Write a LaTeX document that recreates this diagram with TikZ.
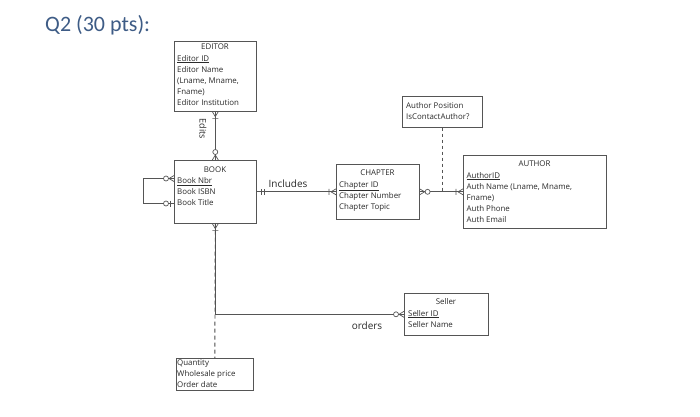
\documentclass[tikz,border=0pt]{standalone}
\usepackage{fontspec}
\setmainfont{Open Sans}
\newfontfamily\titlefont{Carlito}
\usetikzlibrary{calc}
\definecolor{titleblue}{HTML}{3E5C86}
\definecolor{linegray}{HTML}{555555}
\definecolor{txtgray}{HTML}{2A2A2A}
\begin{document}
\begin{tikzpicture}[x=1pt,y=-1pt,
  box/.style={draw=linegray, line width=0.6pt, rectangle, inner sep=0pt, anchor=north west},
  etitle/.style={inner sep=0pt, font=\fontsize{7.9}{9}\selectfont, text=txtgray, text height=5.5pt, text depth=1.5pt},
  attr/.style={etitle, anchor=west},
  rel/.style={inner sep=0pt, font=\fontsize{10}{12}\selectfont, text=txtgray},
  conn/.style={draw=linegray, line width=0.7pt},
  onemany/.pic={\draw[conn] (-5,0) -- (0,-3) (-5,0) -- (0,3) (-7,-3) -- (-7,3);},
  zeromany/.pic={\draw[conn] (-5,0) -- (0,-3) (-5,0) -- (0,3); \draw[conn, fill=white] (-8,0) circle[radius=2.5pt];},
  oneone/.pic={\draw[conn] (-5,-3) -- (-5,3) (-7.5,-3) -- (-7.5,3);},
  zeroone/.pic={\draw[conn] (-3.5,-3) -- (-3.5,3); \draw[conn, fill=white] (-8,0) circle[radius=2.5pt];}
]
\useasboundingbox (0,0) rectangle (700,416);
\fill[white] (0,0) rectangle (700,416);

% title
\node[anchor=base west, inner sep=0pt, font=\titlefont\fontsize{22}{26}\selectfont, text=titleblue] (title) at (45,31.5) {Q2 (30 pts):};

% boxes
\node[box, minimum width=82pt, minimum height=70pt] (editor) at (174,41) {};
\node[box, minimum width=82pt, minimum height=63pt] (book) at (174,160) {};
\node[box, minimum width=83pt, minimum height=55pt] (chapter) at (336,164) {};
\node[box, minimum width=143pt, minimum height=73pt] (author) at (463,155) {};
\node[box, minimum width=80pt, minimum height=31pt] (ap) at (402,96) {};
\node[box, minimum width=84pt, minimum height=42pt] (seller) at (404,293) {};
\node[box, minimum width=77pt, minimum height=32pt] (attr) at (176,358) {};

% EDITOR text
\node[etitle] (editor-t) at (215,47.5) {EDITOR};
\node[attr] (editor-a1) at (177,59) {\underline{Editor ID}};
\node[attr] (editor-a2) at (177,70) {Editor Name};
\node[attr] (editor-a3) at (177,81.5) {(Lname, Mname,};
\node[attr] (editor-a4) at (177,92) {Fname)};
\node[attr] (editor-a5) at (177,103) {Editor Institution};

% BOOK text
\node[etitle] (book-t) at (215,170) {BOOK};
\node[attr] (book-a1) at (177,181.5) {\underline{Book Nbr}};
\node[attr] (book-a2) at (177,192.5) {Book ISBN};
\node[attr] (book-a3) at (177,203.5) {Book Title};

% CHAPTER text
\node[etitle] (chapter-t) at (377.5,173) {CHAPTER};
\node[attr] (chapter-a1) at (339,185) {\underline{Chapter ID}};
\node[attr] (chapter-a2) at (339,196) {Chapter Number};
\node[attr] (chapter-a3) at (339,207) {Chapter Topic};

% AUTHOR text
\node[etitle] (author-t) at (534.5,164) {AUTHOR};
\node[attr] (author-a1) at (466.5,176) {\underline{AuthorID}};
\node[attr] (author-a2) at (466.5,187) {Auth Name (Lname, Mname,};
\node[attr] (author-a3) at (466.5,198) {Fname)};
\node[attr] (author-a4) at (466.5,209) {Auth Phone};
\node[attr] (author-a5) at (466.5,220) {Auth Email};

% Author Position text
\node[attr] (ap-a1) at (406,106) {Author Position};
\node[attr] (ap-a2) at (406,117) {IsContactAuthor?};

% Seller text
\node[etitle] (seller-t) at (446,302.5) {Seller};
\node[attr] (seller-a1) at (408,314) {\underline{Seller ID}};
\node[attr] (seller-a2) at (408,325) {Seller Name};

% order attributes
\node[attr] (attr-a1) at (177,363.5) {Quantity};
\node[attr] (attr-a2) at (177,374.5) {Wholesale price};
\node[attr] (attr-a3) at (177,385.3) {Order date};

% Edits
\draw[conn] (editor.south) -- (book.north);
\pic[rotate=90] at (editor.south) {onemany};
\pic[rotate=-90] at (book.north) {zeromany};
\node[rel, font=\fontsize{9}{11}\selectfont, rotate=-90] (edits) at (203,129) {Edits};

% self loop on BOOK
\coordinate (loopt) at ($(book.north west)+(0,18.5)$);
\coordinate (loopb) at ($(book.north west)+(0,43.5)$);
\draw[conn] (loopt) -- ++(-31,0) |- (loopb);
\pic at (loopt) {zeromany};
\pic at (loopb) {zeroone};

% Includes
\draw[conn] (book.east) -- (chapter.west);
\pic[rotate=180] at (book.east) {oneone};
\pic at (chapter.west) {onemany};
\node[rel] (includes) at (288,184) {Includes};

% Chapter - Author
\draw[conn] (chapter.east) -- (author.west);
\pic[rotate=180] at (chapter.east) {zeromany};
\pic at (author.west) {onemany};
\draw[conn, dashed] (ap.south) -- (ap.south |- author.west);

% orders
\draw[conn] (book.south) |- (seller.west);
\pic[rotate=90] at (book.south) {onemany};
\pic at (seller.west) {zeromany};
\node[rel] (orders) at (367,326) {orders};
\draw[conn, draw=black!70, line width=0.9pt, dash pattern=on 4pt off 3pt] (book.south) -- (attr.north);
\end{tikzpicture}
\end{document}
